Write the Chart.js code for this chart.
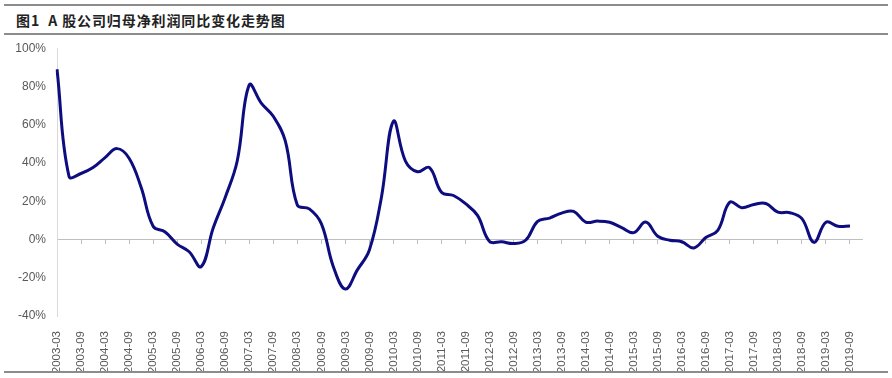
<!DOCTYPE html>
<html lang="zh">
<head>
<meta charset="UTF-8">
<title>A股公司归母净利润同比变化走势图</title>
<script src="https://cdn.jsdelivr.net/npm/chart.js"></script>
<style>
  body, html {
    margin: 0;
    background: #fff;
    font-family: "Liberation Sans", Arial, sans-serif;
  }
  .rule {
    position: absolute;
    left: 4px;
    width: 884px;
    height: 2px;
    background: #8c8c8c;
  }
  .title {
    position: absolute;
    left: 16px;
    top: 10px;
    font: bold 14px "Noto Sans CJK SC", sans-serif;
    color: #222;
    letter-spacing: 0.9px;
  }
  .wrap {
    position: absolute;
    left: 0;
    top: 30px;
    width: 892px;
    height: 342px;
  }
</style>
</head>
<body>
<div class="rule" style="top:4px"></div>
<div class="title">图1&nbsp;&nbsp;A 股公司归母净利润同比变化走势图</div>
<div class="rule" style="top:33px"></div>
<div class="wrap"><canvas id="profitChart"></canvas></div>
<div class="rule" style="top:371px"></div>

<script>
const quarters = [
  "2003-03","2003-06","2003-09","2003-12","2004-03","2004-06","2004-09","2004-12",
  "2005-03","2005-06","2005-09","2005-12","2006-03","2006-06","2006-09","2006-12",
  "2007-03","2007-06","2007-09","2007-12","2008-03","2008-06","2008-09","2008-12",
  "2009-03","2009-06","2009-09","2009-12","2010-03","2010-06","2010-09","2010-12",
  "2011-03","2011-06","2011-09","2011-12","2012-03","2012-06","2012-09","2012-12",
  "2013-03","2013-06","2013-09","2013-12","2014-03","2014-06","2014-09","2014-12",
  "2015-03","2015-06","2015-09","2015-12","2016-03","2016-06","2016-09","2016-12",
  "2017-03","2017-06","2017-09","2017-12","2018-03","2018-06","2018-09","2018-12",
  "2019-03","2019-06","2019-09","2019-12"
];

// net profit attributable to parent, YoY %
const profitYoY = [
  89, 33, 34.5, 37.6, 42.8, 47.5, 42.5, 27.3,
  6.9, 3.9, -2.4, -6.4, -14.2, 6, 22, 41,
  80.8, 71.3, 64.4, 51.5, 18, 16, 8.3, -14.2,
  -25.9, -15.9, -5.5, 22, 61.8, 41, 35.4, 37.6,
  24.7, 23, 18.7, 12.6, -1, -1.2, -2.1, -0.4,
  9.5, 11.2, 13.8, 14.7, 9.1, 9.6, 9, 6.2,
  3.6, 9.1, 1.7, -0.4, -1.2, -4.4, 1, 4.8,
  19.5, 16.6, 18.3, 18.8, 14.3, 14, 10.9, -1.5,
  9, 6.9, 7, null
];

const yTicks = [-40, -20, 0, 20, 40, 60, 80, 100];

const ctx = document.getElementById('profitChart').getContext('2d');
new Chart(ctx, {
  type: 'line',
  data: {
    labels: quarters,
    datasets: [{
      data: profitYoY,
      borderColor: '#0d0d80',
      borderWidth: 3,
      pointRadius: 0,
      tension: 0.4,
      fill: false
    }]
  },
  options: {
    responsive: true,
    maintainAspectRatio: false,
    animation: false,
    layout: { padding: { left: 0, right: 30, top: 1, bottom: 0 } },
    plugins: {
      legend: { display: false },
      tooltip: { enabled: false }
    },
    scales: {
      x: {
        position: 'bottom',
        grid: { display: false },
        border: { display: false },
        ticks: {
          autoSkip: false,
          maxRotation: 90,
          minRotation: 90,
          padding: 7,
          color: '#595959',
          font: { family: '"Liberation Sans", Arial, sans-serif', size: 11.5 },
          callback: function (val, i) { return i % 2 === 0 ? quarters[i] : ''; }
        },
        afterFit: function (scale) { scale.height = 56; }
      },
      zero: {
        type: 'category',
        axis: 'x',
        position: { y: 0 },
        grid: {
          drawOnChartArea: false,
          drawTicks: true,
          tickLength: 4,
          color: function (c) { return c.index % 2 === 0 ? '#bfbfbf' : 'rgba(0,0,0,0)'; }
        },
        border: { display: true, color: '#bfbfbf', width: 1 },
        ticks: { display: false, autoSkip: false }
      },
      y: {
        min: -40,
        max: 100,
        afterBuildTicks: function (scale) {
          scale.ticks = yTicks.map(function (v) { return { value: v }; });
        },
        grid: { display: false, drawTicks: false },
        border: { display: true, color: '#d9d9d9', width: 1 },
        ticks: {
          padding: 11,
          color: '#595959',
          font: { family: '"Liberation Sans", Arial, sans-serif', size: 12 },
          callback: function (v) { return v + '%'; }
        },
        afterFit: function (scale) { scale.width = 57; }
      }
    }
  }
});
</script>
</body>
</html>
